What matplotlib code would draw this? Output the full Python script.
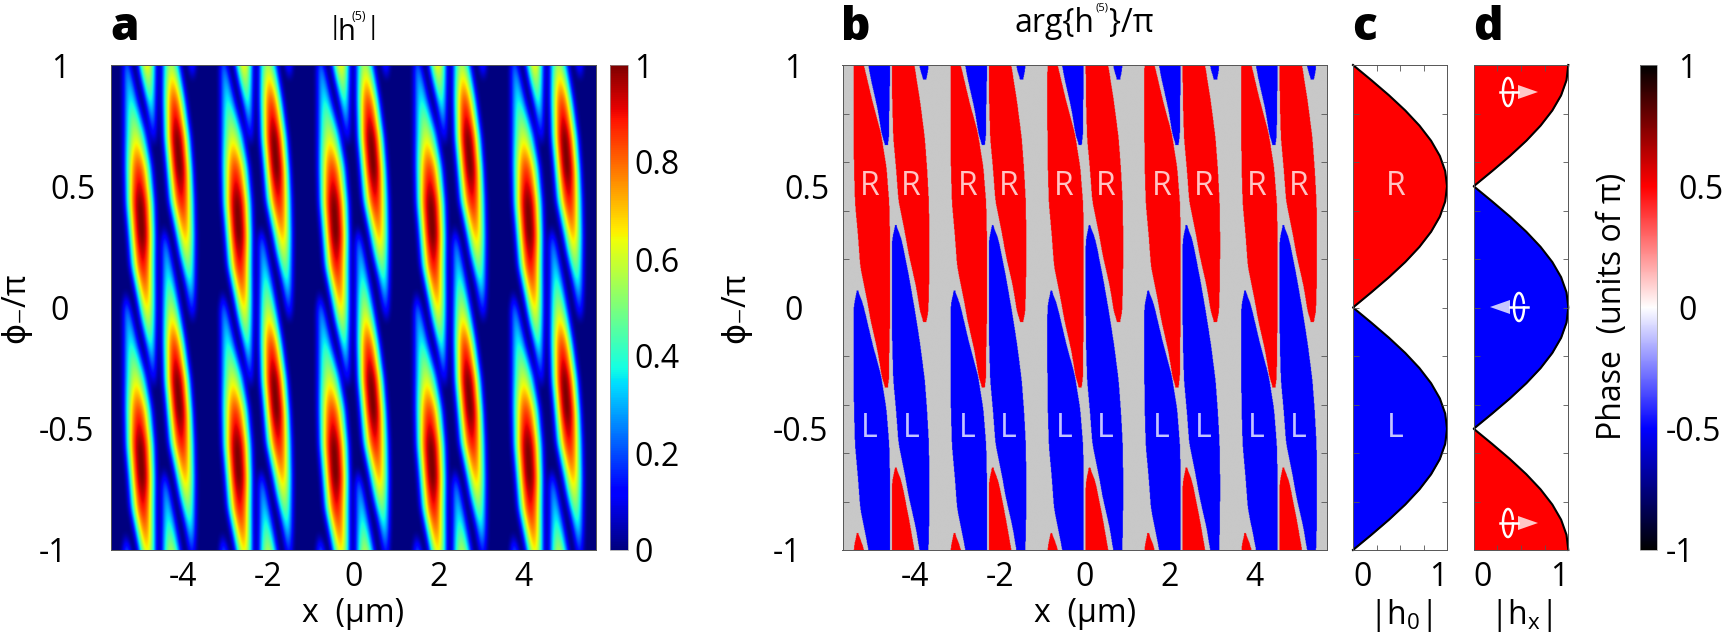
import numpy as np
import matplotlib
matplotlib.use("Agg")
import matplotlib.pyplot as plt
from matplotlib.colors import LinearSegmentedColormap
from matplotlib.cm import ScalarMappable
from matplotlib.colors import Normalize
from matplotlib.patches import Arc, Polygon

plt.rcParams['font.family'] = ['Open Sans', 'DejaVu Sans']
plt.rcParams['mathtext.fontset'] = 'custom'
plt.rcParams['mathtext.rm'] = 'Open Sans'
plt.rcParams['mathtext.it'] = 'Open Sans'

W, H = 1725, 632
GRAY = '#555555'

# Emission lobes of the harmonic field: phase position, left and right
# boundaries in x (um), and peak magnitude along the lobe.
lobe_phi = [1.07, 1.04, 1.00, 0.856, 0.72, 0.58, 0.43, 0.30, 0.17, 0.03, -0.05, -0.18, -0.30, -0.33]
lobe_left = [-5.37, -5.42, -5.456, -5.456, -5.456, -5.447, -5.422, -5.355, -5.30, -5.14, -5.06, -4.892, -4.78, -4.70]
first_lobe_right = [-5.37, -5.28, -5.212, -5.02, -4.81, -4.683, -4.616, -4.60, -4.60, -4.60, -4.60, -4.616, -4.62, -4.66]
second_lobe_right = [-5.37, -5.28, -5.212, -5.05, -4.915, -4.79, -4.68, -4.625, -4.585, -4.572, -4.572, -4.58, -4.60, -4.66]
lobe_peak = [0.05, 0.14, 0.24, 0.38, 0.58, 0.85, 1.02, 1.03, 0.90, 0.72, 0.58, 0.36, 0.14, 0.05]

# The second lobe of each cell is displaced by this much in x and phase.
second_lobe_dx = 0.90
second_lobe_dphi = 0.27
cell_period = 2.28

# Drive amplitudes versus phase for panels c and d.
phi_samples = [-1, -0.9375, -0.875, -0.8125, -0.75, -0.6875, -0.625, -0.5625, -0.5,
               -0.4375, -0.375, -0.3125, -0.25, -0.1875, -0.125, -0.0625, 0,
               0.0625, 0.125, 0.1875, 0.25, 0.3125, 0.375, 0.4375, 0.5,
               0.5625, 0.625, 0.6875, 0.75, 0.8125, 0.875, 0.9375, 1]
h0_abs = [0, 0.195, 0.383, 0.556, 0.707, 0.831, 0.924, 0.981, 1,
          0.981, 0.924, 0.831, 0.707, 0.556, 0.383, 0.195, 0,
          0.195, 0.383, 0.556, 0.707, 0.831, 0.924, 0.981, 1,
          0.981, 0.924, 0.831, 0.707, 0.556, 0.383, 0.195, 0]
hx_abs = [1, 0.981, 0.924, 0.831, 0.707, 0.556, 0.383, 0.195, 0,
          0.195, 0.383, 0.556, 0.707, 0.831, 0.924, 0.981, 1,
          0.981, 0.924, 0.831, 0.707, 0.556, 0.383, 0.195, 0,
          0.195, 0.383, 0.556, 0.707, 0.831, 0.924, 0.981, 1]

# Axis ticks and annotations
x_ticks = [-4, -2, 0, 2, 4]
phi_ticks = [1, 0.5, 0, -0.5, -1]
phi_tick_labels = ['1', '0.5', '0', '-0.5', '-1']
phi_minor = [-0.8, -0.6, -0.4, -0.2, 0, 0.2, 0.4, 0.6, 0.8]
amp_ticks = [0, 0.2, 0.4, 0.6, 0.8, 1]
amp_tick_labels = ['0', '0.2', '0.4', '0.6', '0.8', '1']
letter_x = [-5.06, -4.09, -2.76, -1.79, -0.48, 0.49, 1.81, 2.80, 4.05, 5.04]
h_ticks_minor = [0, 0.25, 0.5, 0.75, 1]


def smooth(values, n=9):
    pad = np.r_[np.full(n, values[0]), values, np.full(n, values[-1])]
    return np.convolve(pad, np.ones(n) / n, mode='same')[n:-n]


def synthesize(xs, ps):
    """Signed field: sum of the two lobes of every cell, alternating in sign per phase unit."""
    order = np.argsort(lobe_phi)
    tp = np.array(lobe_phi)[order]
    fine = np.linspace(tp[0], tp[-1], 561)

    def edge(table):
        return smooth(smooth(np.interp(fine, tp, np.array(table)[order]), 21), 11)

    left = edge(lobe_left)
    peak = smooth(np.interp(fine, tp, np.array(lobe_peak)[order]), 31)
    field = np.zeros((ps.size, xs.size))
    lobes = ((0.0, 0.0, edge(first_lobe_right)),
             (second_lobe_dx, second_lobe_dphi, edge(second_lobe_right)))
    for dx, dp, right in lobes:
        for j in range(-3, 3):
            rows = np.where((ps - j - dp >= fine[0]) & (ps - j - dp <= fine[-1]))[0]
            if rows.size == 0:
                continue
            own = ps[rows] - j - dp
            le = np.interp(own, fine, left) + dx
            ri = np.interp(own, fine, right) + dx
            pk = np.interp(own, fine, peak)
            sign = (-1.0) ** j
            for k in range(-1, 6):
                off = k * cell_period
                cen = (le + ri)[:, None] / 2 + off
                half = np.maximum((ri - le)[:, None] / 2, 1e-3)
                u = (xs[None, :] - cen) / half
                prof = np.clip(1 - u ** 2, 0, None) ** 1.3
                field[rows] += sign * pk[:, None] * prof
    return field


def soften(img, n_row, n_col):
    """Periodic box filter, applied twice along each image axis."""
    out = img
    for axis, n in ((0, n_row), (1, n_col)):
        for _ in range(2):
            pad = [(n, n) if a == axis else (0, 0) for a in range(2)]
            wide = np.pad(out, pad, mode='wrap')
            out = np.apply_along_axis(lambda v: np.convolve(v, np.ones(n) / n, mode='same'), axis, wide)
            out = out[n:-n, :] if axis == 0 else out[:, n:-n]
    return out


x_grid = np.linspace(-5.7, 5.7, 1000)
phi_grid = np.linspace(-1, 1, 800)
field = synthesize(x_grid, phi_grid)
magnitude = soften(np.abs(field), 11, 11)
phase = np.ma.masked_where(field == 0, np.where(field > 0, 0.5, -0.5))

phase_cmap = LinearSegmentedColormap.from_list(
    'phase', [(0, 'black'), (0.25, '#0000ff'), (0.5, 'white'), (0.75, '#ff0000'), (1, 'black')], N=512)
phase_cmap.set_bad('#c8c8c8')

fig = plt.figure(figsize=(W / 100, H / 100), dpi=100)


def add_axes(left, right, top=65, bottom=550):
    return fig.add_axes([left / W, 1 - bottom / H, (right - left) / W, (bottom - top) / H])


def pt(px):
    return px * 0.72


def style(ax):
    for s in ax.spines.values():
        s.set_linewidth(0.7)
        s.set_color(GRAY)


def hang_labels(axis, labels, digit_pad, sign_pad):
    """Left-align labels at a fixed column, with minus signs hanging further out."""
    for tick, lab in zip(axis.get_major_ticks(), labels):
        tick.set_pad(pt(sign_pad if lab.startswith('-') else digit_pad))
        tick.label1.set_ha('left')
        tick.label2.set_ha('left')


TICK = 23
ax_a = add_axes(110.7, 595.5)
ax_b = add_axes(842.5, 1326.7)
ax_c = add_axes(1353, 1447)
ax_d = add_axes(1473.7, 1568.3)
cax_a = add_axes(610, 627.5)
cax_p = add_axes(1640, 1657)

extent = [-5.7, 5.7, -1, 1]
ax_a.imshow(magnitude, origin='lower', extent=extent, aspect='auto', cmap='jet', vmin=0, vmax=1,
            interpolation='bilinear')
ax_b.imshow(phase, origin='lower', extent=extent, aspect='auto', cmap=phase_cmap, vmin=-1, vmax=1,
            interpolation='antialiased', interpolation_stage='rgba')

for ax, digit_px, sign_px in ((ax_a, 60, 72), (ax_b, 58, 70)):
    style(ax)
    ax.set_xlim(-5.7, 5.7)
    ax.set_ylim(-1, 1)
    ax.set_xticks(x_ticks)
    ax.set_xticklabels([str(v) for v in x_ticks], fontsize=TICK)
    ax.set_yticks(phi_ticks)
    ax.set_yticklabels(phi_tick_labels, fontsize=TICK)
    ax.tick_params(axis='both', which='major', length=0)
    ax.tick_params(axis='x', pad=pt(11))
    hang_labels(ax.yaxis, phi_tick_labels, digit_px, sign_px)
    ax.set_xlabel('x  (\u00b5m)', fontsize=TICK)
    ax.set_ylabel('\u03d5\u208b/\u03c0', fontsize=TICK)
    ax.xaxis.set_label_coords(0.5, (550 - 597) / 485)

ax_a.yaxis.set_label_coords((32 - 110.7) / 484.8, 0.5)
ax_b.yaxis.set_label_coords((752 - 842.5) / 484.2, 0.5)

ax_b.set_yticks(phi_minor, minor=True)
ax_b.tick_params(axis='y', which='minor', length=4, width=0.6, color=GRAY, direction='in', left=True, right=True)

# Handedness letters over the lobes
for lx in letter_x:
    ax_b.text(lx, 0.5, 'R', color='#ffc4c4', fontsize=23, ha='center', va='center')
    ax_b.text(lx, -0.5, 'L', color='#c4c4ff', fontsize=23, ha='center', va='center')

# Drive amplitudes
phi = np.array(phi_samples)
h0 = np.array(h0_abs)
hx = np.array(hx_abs)
ax_c.fill_betweenx(phi, 0, h0, where=phi >= 0, color='#ff0000', lw=0)
ax_c.fill_betweenx(phi, 0, h0, where=phi <= 0, color='#0000ff', lw=0)
ax_c.plot(h0, phi, color='black', lw=1.5, clip_on=False, solid_joinstyle='round')
ax_d.fill_betweenx(phi, 0, hx, where=phi >= 0.5, color='#ff0000', lw=0)
ax_d.fill_betweenx(phi, 0, hx, where=(phi >= -0.5) & (phi <= 0.5), color='#0000ff', lw=0)
ax_d.fill_betweenx(phi, 0, hx, where=phi <= -0.5, color='#ff0000', lw=0)
ax_d.plot(hx, phi, color='black', lw=1.5, clip_on=False, solid_joinstyle='round')

for ax in (ax_c, ax_d):
    style(ax)
    ax.set_xlim(0, 1)
    ax.set_ylim(-1, 1)
    ax.set_yticks([])
    ax.set_yticks(phi_minor, minor=True)
    ax.set_xticks([0, 1])
    ax.set_xticklabels(['0', '1'], fontsize=TICK)
    ax.get_xticklabels()[0].set_ha('left')
    ax.get_xticklabels()[1].set_ha('right')
    ax.set_xticks(h_ticks_minor, minor=True)
    ax.tick_params(axis='x', which='major', length=0, pad=pt(11))
    ax.tick_params(which='minor', length=5.5 * 0.72, width=0.6, color=GRAY, direction='in',
                   left=True, right=True, top=True, bottom=True)
    ax.set_axisbelow(False)

ax_c.text(0.45, 0.5, 'R', color='#ffc4c4', fontsize=23, ha='center', va='center')
ax_c.text(0.45, -0.5, 'L', color='#c4c4ff', fontsize=23, ha='center', va='center')
ax_c.set_xlabel(r'$|\mathrm{h}_{\mathrm{0}}|$', fontsize=TICK)
ax_d.set_xlabel(r'$|\mathrm{h}_{\mathrm{x}}|$', fontsize=TICK)
ax_c.xaxis.set_label_coords(0.5, (550 - 597) / 485)
ax_d.xaxis.set_label_coords(0.5, (550 - 597) / 485)


def spin_icon(ax, head_tip, head_base, tail, ring_x, y_px, head_color):
    """Arrow with a circulating ring, placed in figure pixels."""
    tr = fig.transFigure
    def P(px, py):
        return (px / W, 1 - py / H)
    ax.add_line(plt.Line2D(*zip(P(tail, y_px), P(head_base, y_px)), transform=tr, color='white', lw=1.8))
    ax.add_patch(Polygon([P(head_tip, y_px), P(head_base, y_px - 7), P(head_base, y_px + 7)],
                         transform=tr, closed=True, facecolor=head_color, edgecolor='none'))
    ax.add_patch(Arc(P(ring_x, y_px), 10 / W, 28 / H, theta1=-300, theta2=20, transform=tr,
                     color='white', lw=1.8))


spin_icon(ax_d, 1538, 1518, 1500, 1508, 92, '#ffc8c8')
spin_icon(ax_d, 1490, 1510, 1528, 1519, 307, '#c8c8ff')
spin_icon(ax_d, 1538, 1518, 1500, 1508, 523, '#ffc8c8')

# Colour scales
cb_a = fig.colorbar(ScalarMappable(Normalize(0, 1), 'jet'), cax=cax_a, ticks=amp_ticks)
cb_a.ax.set_yticklabels(amp_tick_labels, fontsize=TICK)
cb_a.ax.tick_params(length=0, pad=pt(7))
cb_a.outline.set_linewidth(0.5)
cb_a.outline.set_edgecolor('#999999')

cb_p = fig.colorbar(ScalarMappable(Normalize(-1, 1), phase_cmap), cax=cax_p, ticks=phi_ticks)
cb_p.ax.set_yticklabels(phi_tick_labels, fontsize=TICK)
cb_p.ax.tick_params(length=0)
hang_labels(cb_p.ax.yaxis, phi_tick_labels, 21, 9)
cb_p.outline.set_linewidth(0.5)
cb_p.outline.set_edgecolor('#999999')
fig.text(1613 / W, 1 - 306 / H, 'Phase  (units of \u03c0)', fontsize=TICK, rotation=90, ha='center', va='center')

# Panel letters and titles
for letter, px in (('a', 110), ('b', 841), ('c', 1352), ('d', 1473)):
    fig.text(px / W, 1 - 40 / H, letter, fontsize=33, fontweight='heavy', ha='left', va='baseline')

fig.text(328 / W, 1 - 34 / H, '|', fontsize=19, ha='left', va='baseline')
fig.text(338 / W, 1 - 40 / H, 'h', fontsize=21, ha='left', va='baseline')
fig.text(351 / W, 1 - 20 / H, '(5)', fontsize=9, ha='left', va='baseline')
fig.text(366 / W, 1 - 34 / H, '|', fontsize=19, ha='left', va='baseline')
fig.text(1015 / W, 1 - 32 / H, 'arg{h', fontsize=TICK, ha='left', va='baseline')
fig.text(1096 / W, 1 - 11 / H, '(5)', fontsize=8, ha='left', va='baseline')
fig.text(1109 / W, 1 - 32 / H, '}/\u03c0', fontsize=TICK, ha='left', va='baseline')

fig.savefig('out.png', dpi=100)
